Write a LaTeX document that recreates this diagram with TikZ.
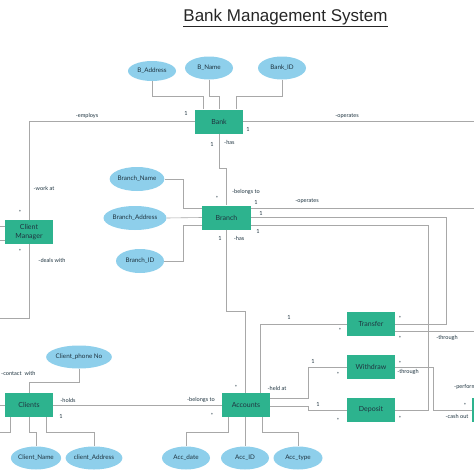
\documentclass[tikz,border=0pt]{standalone}
\usepackage{fontspec}
\setmainfont{Lato}
\newfontfamily\titlefont{Liberation Sans}
\usetikzlibrary{shapes, positioning, calc}
\definecolor{entfill}{HTML}{2DB38E}
\definecolor{attfill}{HTML}{8ECFEB}
\definecolor{ink}{HTML}{1F3440}
\definecolor{wire}{HTML}{A8A8A8}
\begin{document}
\begin{tikzpicture}[
			x=1pt,y=-1pt,
			entity/.style={rectangle, fill=entfill, minimum width=48pt, minimum height=24pt, inner sep=0pt, text=ink, font=\fontsize{7}{9}\selectfont, align=center},
			attr/.style={ellipse, fill=attfill, minimum width=48pt, minimum height=23pt, inner sep=0pt, text=ink, font=\fontsize{6.3}{7}\selectfont},
			lnk/.style={draw=wire, line width=0.6pt},
			lbl/.style={inner sep=0pt, text=ink, font=\fontsize{5.6}{6}\selectfont}
		]
		\useasboundingbox (0,0) rectangle (474,474);
		\node[font=\titlefont\fontsize{17}{20}\selectfont, text=black!85] (title) at (285.5,18) {\underline{Bank Management System}};

		\node[entity] (bank) at (219,121.5) {Bank};
		\node[entity, minimum width=49pt] (branch) at (226.5,217.5) {Branch};
		\node[entity] (cmgr) at (29,232) {Client\\Manager};
		\node[entity] (clients) at (29,405) {Clients};
		\node[entity] (accounts) at (246,405) {Accounts};
		\node[entity] (transfer) at (371,324) {Transfer};
		\node[entity] (withdraw) at (371,367) {Withdraw};
		\node[entity] (deposit) at (371,410) {Deposit};
		\node[entity] (cashbox) at (496,410) {};

		\node[attr, minimum height=20pt] (baddr) at (152,71) {B\_Address};
		\node[attr] (bname) at (209,68) {B\_Name};
		\node[attr] (bankid) at (282,68) {Bank\_ID};
		\node[attr, minimum width=53pt, minimum height=24pt] (brname) at (137,179) {Branch\_Name};
		\node[attr, minimum width=58pt, minimum height=24pt] (braddr) at (135,218) {Branch\_Address};
		\node[attr, minimum height=24pt] (brid) at (140,261) {Branch\_ID};
		\node[attr, minimum width=62pt] (phone) at (79,357) {Client\_phone No};
		\node[attr, minimum width=42pt] (cname) at (36,458) {Client\_Name};
		\node[attr, minimum width=52pt] (caddr) at (94,458) {client\_Address};
		\node[attr] (accdate) at (186,458) {Acc\_date};
		\node[attr] (accid) at (245,458) {Acc\_ID};
		\node[attr, minimum width=49pt] (acctype) at (298,458) {Acc\_type};

		\coordinate (cmL) at (-6,318);

		\draw[lnk] (baddr.south) -- ++(0,15) -| ([xshift=8pt]bank.north west);
		\draw[lnk] (bname.south) -- ++(0,17) -| (bank.north);
		\draw[lnk] (bankid.south) -- ++(0,17) -| ([xshift=-7pt]bank.north east);
		\draw[lnk] (bank.west) -| (cmgr.north);
		\draw[lnk] (bank.east) -- ++(240,0);
		\draw[lnk] (bank.south) -- ++(0,35) -| (branch.north);
		\draw[lnk] (cmgr.south) |- (cmL);
		\draw[lnk] ([yshift=6pt]cmgr.west) -- ++(-10,0);
		\draw[lnk] ([yshift=-8pt]cmgr.west) -- ++(-10,0);

		\draw[lnk] (brname.east) -- ++(19,0) |- ([yshift=9pt]branch.west);
		\draw[lnk] (braddr.east) -- (branch.west);
		\draw[lnk] (brid.east) -- ++(19,0) |- ([yshift=-7.5pt]branch.west);
		\draw[lnk] ([yshift=9.5pt]branch.east) -- ++(230,0);
		\draw[lnk] (branch.east) -- ++(195,0) |- (transfer.east);
		\draw[lnk] ([yshift=-7.5pt]branch.east) -- ++(177,0) |- (deposit.east);
		\draw[lnk] (branch.south) -- ++(0,82) -| ([xshift=-1pt]accounts.north);

		\draw[lnk] (phone.south) -- ++(0,14) -| (clients.north);
		\draw[lnk] (clients.west) -- ++(-10,0);
		\draw[lnk] ([xshift=5pt]clients.south west) -- ++(0,15) -- ++(-16,0);
		\draw[lnk] (clients.south) -- ++(0,15) -| (cname.north);
		\draw[lnk] ([xshift=17pt]clients.south) -- ++(0,15) -| (caddr.north);
		\draw[lnk] (clients.east) -- (accounts.west);

		\draw[lnk] ([xshift=-18pt]accounts.south) -- ++(0,15) -| (accdate.north);
		\draw[lnk] ([xshift=-1pt]accounts.south) -- (accid.north);
		\draw[lnk] ([xshift=16pt]accounts.south) -- ++(0,15) -| (acctype.north);
		\draw[lnk] ([xshift=14pt]accounts.north) |- (transfer.west);
		\draw[lnk] ([yshift=7pt]accounts.east) -- ++(38,0) |- (withdraw.west);
		\draw[lnk] ([yshift=-1pt]accounts.east) -- ++(38,0) |- (deposit.west);
		\draw[lnk] ([yshift=-7pt]transfer.east) -- ++(85,0);
		\draw[lnk] (withdraw.east) -- ++(38,0) |- (cashbox.west);

		\node[lbl] at (87,116) {-employs};
		\node[lbl] at (347,116) {-operates};
		\node[lbl] at (186,113) {1};
		\node[lbl] at (248,129) {1};
		\node[lbl] at (212,144) {1};
		\node[lbl, anchor=west] at (224,142) {-has};
		\node[lbl] at (44,188) {-work at};
		\node[lbl] at (20,212) {*};
		\node[lbl] at (20,251) {*};
		\node[lbl] at (52,260) {-deals with};

		\node[lbl] at (246,192) {-belongs to};
		\node[lbl] at (217,198) {*};
		\node[lbl] at (256,202) {1};
		\node[lbl] at (307,201) {-operates};
		\node[lbl] at (261,213) {1};
		\node[lbl] at (258,231) {1};
		\node[lbl] at (220,238) {1};
		\node[lbl] at (239,238) {-has};

		\node[lbl] at (289,317) {1};
		\node[lbl] at (340,330) {*};
		\node[lbl] at (400,318) {*};
		\node[lbl] at (400,338) {*};
		\node[lbl] at (447,338) {-through};
		\node[lbl] at (313,361) {1};
		\node[lbl] at (338,374) {*};
		\node[lbl] at (400,363) {*};
		\node[lbl] at (408,372) {-through};
		\node[lbl] at (318,404) {1};
		\node[lbl] at (338,420) {*};
		\node[lbl] at (400,418) {*};
		\node[lbl, anchor=west] at (454,387) {-performs};
		\node[lbl] at (465,405) {*};
		\node[lbl] at (457,416) {-cash out};

		\node[lbl, anchor=west] at (1,373) {-contact~ with};
		\node[lbl] at (68,400) {-holds};
		\node[lbl] at (61,416) {1};
		\node[lbl] at (201,400) {-belongs to};
		\node[lbl] at (212,415) {*};
		\node[lbl] at (236,387) {*};
		\node[lbl] at (277,388) {-held at};
	\end{tikzpicture}
\end{document}
